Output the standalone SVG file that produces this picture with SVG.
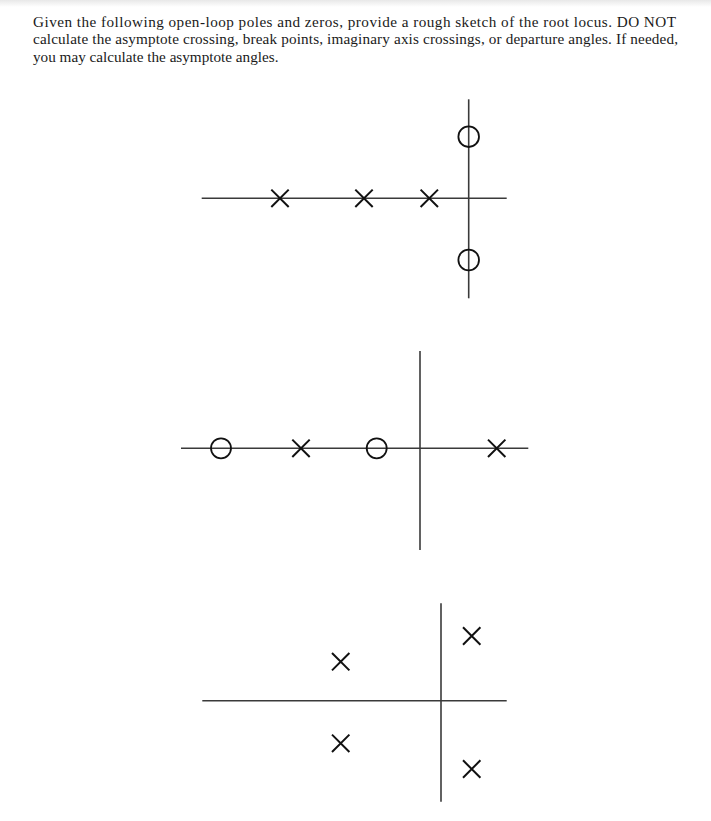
<svg xmlns="http://www.w3.org/2000/svg" width="711" height="821" viewBox="0 0 711 821">
<style>
.t{font-family:"Liberation Serif","Times New Roman",serif;font-size:15.2px;fill:#1a1a1a}
.ax{stroke:#3a3a3a;stroke-width:1.6;fill:none}
.p{stroke:#111;stroke-width:2;fill:none}
.z{stroke:#111;stroke-width:1.8;fill:none}
</style>
<defs>
<path id="x" d="M-8.7,-8.7L8.7,8.7M-8.7,8.7L8.7,-8.7" class="p"/>
<linearGradient id="shade" x1="0" y1="0" x2="0" y2="1">
<stop offset="0" stop-color="#e8e8e8"/>
<stop offset="1" stop-color="#ffffff"/>
</linearGradient>
</defs>
<rect width="711" height="821" fill="#fff"/>
<rect width="711" height="7" fill="url(#shade)"/>
<g id="question">
<text class="t" x="33" y="26.5" textLength="643" lengthAdjust="spacing">Given the following open-loop poles and zeros, provide a rough sketch of the root locus. DO NOT</text>
<text class="t" x="33" y="44.3" textLength="645" lengthAdjust="spacing">calculate the asymptote crossing, break points, imaginary axis crossings, or departure angles. If needed,</text>
<text class="t" x="33" y="62">you may calculate the asymptote angles.</text>
</g>
<g id="connectors">
<line class="ax" x1="201.7" y1="198.3" x2="506.7" y2="198.3"/>
<line class="ax" x1="468.7" y1="99.3" x2="468.7" y2="298.3"/>
<line class="ax" x1="181" y1="448.3" x2="528.3" y2="448.3"/>
<line class="ax" x1="420" y1="351" x2="420" y2="550"/>
<line class="ax" x1="202.3" y1="700.7" x2="506.7" y2="700.7"/>
<line class="ax" x1="441" y1="603.3" x2="441" y2="801.7"/>
</g>
<g id="plot1-pole1"><use href="#x" x="280" y="198.3"/></g>
<g id="plot1-pole2"><use href="#x" x="364" y="198.3"/></g>
<g id="plot1-pole3"><use href="#x" x="429.3" y="198.3"/></g>
<g id="plot1-zero1"><circle class="z" cx="468.7" cy="136.7" r="10.3"/></g>
<g id="plot1-zero2"><circle class="z" cx="468.7" cy="260" r="10.3"/></g>
<g id="plot2-zero1"><circle class="z" cx="221" cy="448.3" r="10"/></g>
<g id="plot2-pole1"><use href="#x" x="301" y="448.3"/></g>
<g id="plot2-zero2"><circle class="z" cx="376.7" cy="448.3" r="10"/></g>
<g id="plot2-pole2"><use href="#x" x="496.7" y="448.3"/></g>
<g id="plot3-pole1"><use href="#x" x="340.7" y="661.7"/></g>
<g id="plot3-pole2"><use href="#x" x="340.7" y="743.3"/></g>
<g id="plot3-pole3"><use href="#x" x="471.7" y="636"/></g>
<g id="plot3-pole4"><use href="#x" x="471.7" y="769"/></g>
</svg>
